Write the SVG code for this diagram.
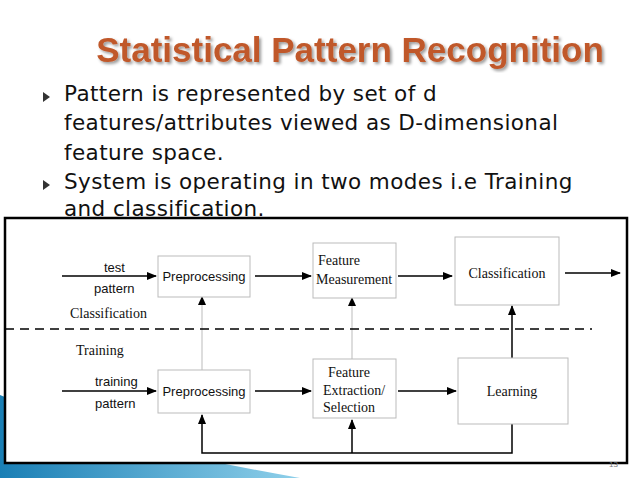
<svg xmlns="http://www.w3.org/2000/svg" width="638" height="478" viewBox="0 0 638 478">
<defs>
<marker id="ah" markerWidth="10" markerHeight="8" refX="9" refY="4" orient="auto" markerUnits="userSpaceOnUse"><path d="M0,0 L10,4 L0,8 z" fill="#000"/></marker>
<linearGradient id="sw" x1="0" y1="0" x2="1" y2="0"><stop offset="0" stop-color="#1a7fb5"/><stop offset="1" stop-color="#8fd0ea"/></linearGradient>
<filter id="sh"><feDropShadow dx="2" dy="2" stdDeviation="1.5" flood-color="#000" flood-opacity="0.4"/></filter>
</defs>
<style>
.b{font-family:"DejaVu Sans",sans-serif;font-size:21.5px;fill:#111;letter-spacing:0.4px}
.box{fill:#fff;stroke:#bbb;stroke-width:1}
.s{font-family:"Liberation Sans",sans-serif;font-size:13px;fill:#111}
.t{font-family:"Liberation Serif",serif;font-size:14px;fill:#111}
.c{stroke:#000;stroke-width:1.5;fill:none}
.g{stroke:#bbb;stroke-width:1;fill:none}
</style>
<rect width="638" height="478" fill="#fff"/>
<path d="M0,395 L110,440 Q200,460 300,478 L0,478 z" fill="url(#sw)"/>
<text x="350" y="62" text-anchor="middle" font-family="Liberation Sans,sans-serif" font-weight="bold" font-size="35" fill="#c0582a" filter="url(#sh)">Statistical Pattern Recognition</text>
<g class="b">
<path d="M43,92 l7,5 l-7,5z" fill="#333"/>
<text x="64" y="101">Pattern is represented by set of d</text>
<text x="64" y="130">features/attributes viewed as D-dimensional</text>
<text x="64" y="160">feature space.</text>
<path d="M43,180 l7,5 l-7,5z" fill="#333"/>
<text x="64" y="189">System is operating in two modes i.e Training</text>
<text x="64" y="216">and classification.</text>
</g>
<rect x="5" y="218" width="622" height="245" fill="#fff" stroke="#000" stroke-width="2.5"/>
<g id="connectors">
<line class="g" x1="202" y1="370" x2="202" y2="296"/>
<line class="g" x1="352" y1="359" x2="352" y2="297"/>
<path d="M198,305 L202,296 L206,305z" fill="#000"/>
<path d="M348,306 L352,297 L356,306z" fill="#000"/>
<line class="c" x1="62" y1="276" x2="156" y2="276" marker-end="url(#ah)"/>
<line class="c" x1="255" y1="276" x2="311" y2="276" marker-end="url(#ah)"/>
<line class="c" x1="398" y1="276" x2="452" y2="276" marker-end="url(#ah)"/>
<line class="c" x1="565" y1="273" x2="620" y2="273" marker-end="url(#ah)"/>
<line class="c" x1="62" y1="391" x2="156" y2="391" marker-end="url(#ah)"/>
<line class="c" x1="255" y1="391" x2="311" y2="391" marker-end="url(#ah)"/>
<line class="c" x1="398" y1="391" x2="456" y2="391" marker-end="url(#ah)"/>
<line class="c" x1="512" y1="358" x2="512" y2="306" marker-end="url(#ah)"/>
<polyline class="c" points="512,423 512,453 202,453 202,415" marker-end="url(#ah)"/>
<line class="c" x1="352" y1="453" x2="352" y2="420" marker-end="url(#ah)"/>
<line x1="5" y1="329" x2="592" y2="329" stroke="#000" stroke-width="1.5" stroke-dasharray="9,6"/>
</g>
<text class="s" x="104" y="272">test</text>
<text class="s" x="94" y="293">pattern</text>
<text class="t" x="70" y="318">Classification</text>
<text class="t" x="76" y="355">Training</text>
<text class="s" x="95" y="386">training</text>
<text class="s" x="95" y="408">pattern</text>
<g id="pre1"><rect class="box" x="158" y="256" width="92" height="41"/><text class="s" x="204" y="281" text-anchor="middle">Preprocessing</text></g>
<g id="fm"><rect class="box" x="313" y="243" width="83" height="55"/><text class="t" x="318" y="265">Feature</text><text class="t" x="316" y="284">Measurement</text></g>
<g id="cls"><rect class="box" x="455" y="237" width="104" height="68"/><text class="t" x="507" y="278" text-anchor="middle">Classification</text></g>
<g id="pre2"><rect class="box" x="158" y="370" width="92" height="43"/><text class="s" x="204" y="396" text-anchor="middle">Preprocessing</text></g>
<g id="fe"><rect class="box" x="313" y="359" width="83" height="59"/><text class="t" x="349" y="377" text-anchor="middle">Feature</text><text class="t" x="323" y="395">Extraction/</text><text class="t" x="323" y="412">Selection</text></g>
<g id="learn"><rect class="box" x="458" y="358" width="110" height="66"/><text class="t" x="512" y="396" text-anchor="middle">Learning</text></g>
<text x="609" y="467" font-family="Liberation Sans,sans-serif" font-size="8" fill="#777">13</text>
</svg>
